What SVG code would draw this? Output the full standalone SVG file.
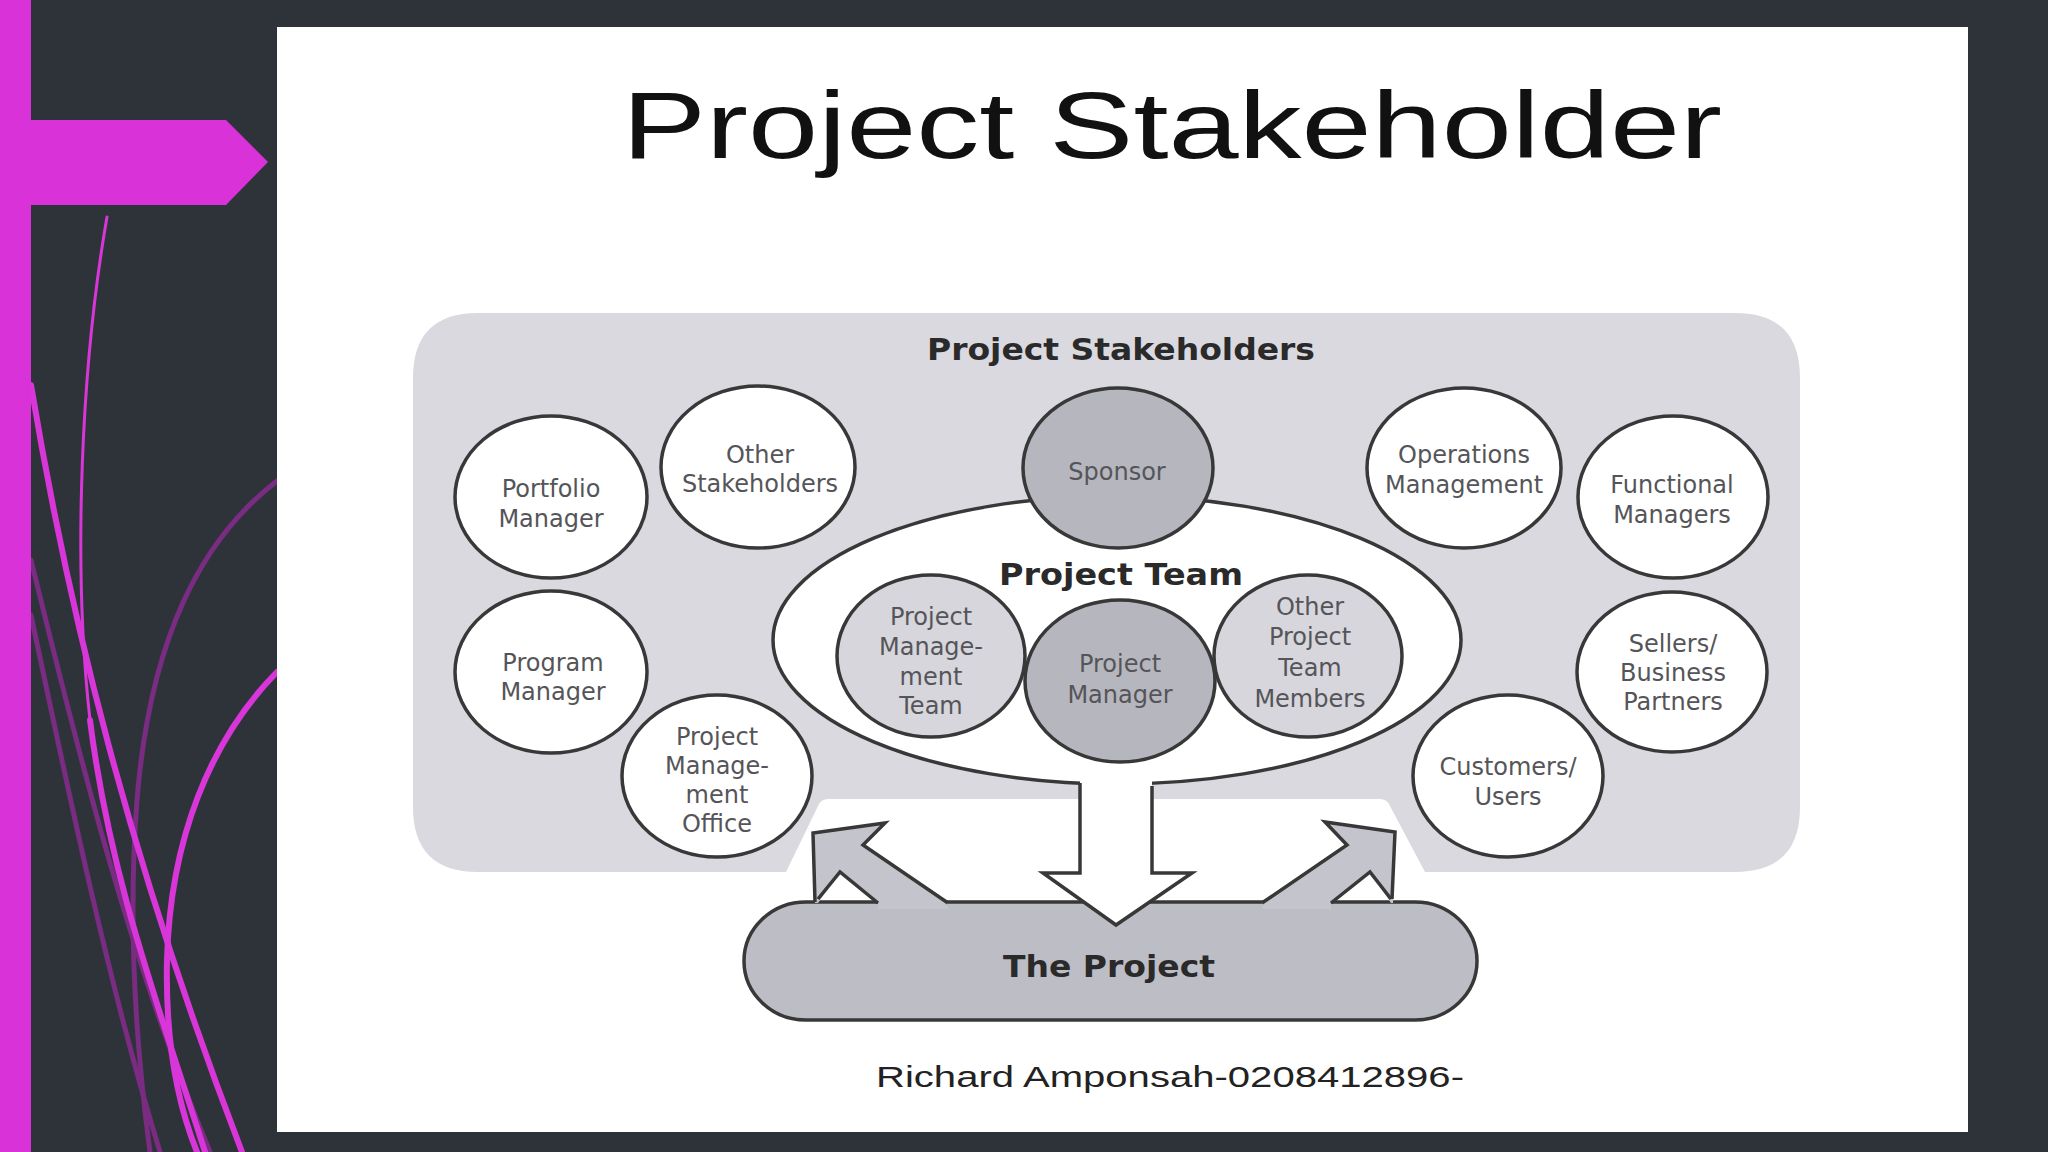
<svg xmlns="http://www.w3.org/2000/svg" width="2048" height="1152" viewBox="0 0 2048 1152">
  <style>
    .node { stroke: #383838; stroke-width: 3.5; }
    .white { fill: #ffffff; }
    .dark { fill: #b6b6be; }
    .light { fill: #d6d6dc; }
    .lbl { font-family: "DejaVu Sans", "Liberation Sans", sans-serif; font-size: 24px; fill: #555559; text-anchor: middle; }
    .head { font-family: "DejaVu Sans", "Liberation Sans", sans-serif; font-weight: bold; font-size: 30px; fill: #2a2a2a; text-anchor: middle; }
    .bright { fill: none; stroke: #d936d9; stroke-linecap: round; }
    .purple { fill: none; stroke: #7a2b82; stroke-linecap: round; }
  </style>

  <!-- slide background -->
  <rect x="0" y="0" width="2048" height="1152" fill="#2e333a"/>

  <!-- decorative curves -->
  <g id="decor">
    <path class="purple" stroke-width="5" d="M31,560 C 80,760 130,960 210,1152"/>
    <path class="purple" stroke-width="5" d="M31,615 C 70,800 110,990 160,1152"/>
    <path class="purple" stroke-width="5" d="M277,481 C 200,540 150,640 137,800 C 128,920 135,1040 150,1152"/>
    <path class="bright" stroke-width="3" d="M107,217 C 82,360 72,560 90,720"/>
    <path class="bright" stroke-width="6" d="M90,720 C 110,880 160,1010 205,1152"/>
    <path class="bright" stroke-width="6" d="M31,385 C 70,620 130,860 242,1152"/>
    <path class="bright" stroke-width="6" d="M277,672 C 210,740 170,840 167,960 C 165,1050 180,1110 197,1152"/>
  </g>

  <!-- magenta bar and arrow -->
  <rect x="0" y="0" width="31" height="1152" fill="#d932d9"/>
  <polygon points="31,120 226,120 268,162 226,205 31,205" fill="#d932d9"/>

  <!-- white slide panel -->
  <rect x="277" y="27" width="1691" height="1105" fill="#ffffff"/>

  <text x="1172" y="158" font-family="Liberation Sans, Arial, sans-serif" font-size="95" fill="#111111" text-anchor="middle" textLength="1100" lengthAdjust="spacingAndGlyphs">Project Stakeholder</text>

  <!-- stakeholders container -->
  <g id="stakeholders">
    <path d="M478,313 H1735 Q1800,313 1800,378 V807 Q1800,872 1735,872 H1425 L1390,806 Q1387,799 1380,799 H828 Q821,799 818,806 L786,872 H478 Q413,872 413,807 V378 Q413,313 478,313 Z" fill="#d9d9df"/>
    <text class="head" x="1121" y="360" textLength="388" lengthAdjust="spacingAndGlyphs">Project Stakeholders</text>
  </g>

  <g id="portfolio-manager">
    <ellipse class="node white" cx="551" cy="497" rx="96" ry="81"/>
    <text class="lbl" x="551" y="497">Portfolio</text>
    <text class="lbl" x="551" y="527">Manager</text>
  </g>
  <g id="other-stakeholders">
    <ellipse class="node white" cx="758" cy="467" rx="97" ry="81"/>
    <text class="lbl" x="760" y="463">Other</text>
    <text class="lbl" x="760" y="492">Stakeholders</text>
  </g>
  <g id="program-manager">
    <ellipse class="node white" cx="551" cy="672" rx="96" ry="81"/>
    <text class="lbl" x="553" y="671">Program</text>
    <text class="lbl" x="553" y="700">Manager</text>
  </g>
  <g id="project-management-office">
    <ellipse class="node white" cx="717" cy="776" rx="95" ry="81"/>
    <text class="lbl" x="717" y="745">Project</text>
    <text class="lbl" x="717" y="774">Manage-</text>
    <text class="lbl" x="717" y="803">ment</text>
    <text class="lbl" x="717" y="832">Office</text>
  </g>
  <g id="operations-management">
    <ellipse class="node white" cx="1464" cy="468" rx="97" ry="80"/>
    <text class="lbl" x="1464" y="463">Operations</text>
    <text class="lbl" x="1464" y="493">Management</text>
  </g>
  <g id="functional-managers">
    <ellipse class="node white" cx="1673" cy="497" rx="95" ry="81"/>
    <text class="lbl" x="1672" y="493">Functional</text>
    <text class="lbl" x="1672" y="523">Managers</text>
  </g>
  <g id="sellers-business-partners">
    <ellipse class="node white" cx="1672" cy="672" rx="95" ry="80"/>
    <text class="lbl" x="1673" y="652">Sellers/</text>
    <text class="lbl" x="1673" y="681">Business</text>
    <text class="lbl" x="1673" y="710">Partners</text>
  </g>
  <g id="customers-users">
    <ellipse class="node white" cx="1508" cy="776" rx="95" ry="81"/>
    <text class="lbl" x="1508" y="775">Customers/</text>
    <text class="lbl" x="1508" y="805">Users</text>
  </g>

  <!-- project team -->
  <g id="project-team">
    <ellipse class="node white" cx="1117" cy="640" rx="344" ry="144"/>
    <text class="head" x="1121" y="585" textLength="244" lengthAdjust="spacingAndGlyphs">Project Team</text>
  </g>
  <g id="sponsor">
    <ellipse class="node dark" cx="1118" cy="468" rx="95" ry="80"/>
    <text class="lbl" x="1117" y="480">Sponsor</text>
  </g>
  <g id="project-management-team">
    <ellipse class="node light" cx="931" cy="656" rx="94" ry="81"/>
    <text class="lbl" x="931" y="625">Project</text>
    <text class="lbl" x="931" y="655">Manage-</text>
    <text class="lbl" x="931" y="685">ment</text>
    <text class="lbl" x="931" y="714">Team</text>
  </g>
  <g id="other-project-team-members">
    <ellipse class="node light" cx="1308" cy="656" rx="94" ry="81"/>
    <text class="lbl" x="1310" y="615">Other</text>
    <text class="lbl" x="1310" y="645">Project</text>
    <text class="lbl" x="1310" y="676">Team</text>
    <text class="lbl" x="1310" y="707">Members</text>
  </g>
  <g id="project-manager">
    <ellipse class="node dark" cx="1120" cy="681" rx="95" ry="81"/>
    <text class="lbl" x="1120" y="672">Project</text>
    <text class="lbl" x="1120" y="703">Manager</text>
  </g>

  <!-- the project -->
  <g id="the-project">
    <rect class="node" x="744" y="902" width="733" height="118" rx="62" ry="59" fill="#bdbdc5"/>
    <text class="head" x="1109" y="977" font-size="32" textLength="212" lengthAdjust="spacingAndGlyphs">The Project</text>
  </g>

  <!-- connectors (block arrows) -->
  <g id="connectors">
    <!-- down arrow: project team to the project -->
    <path d="M1080,770 V873 H1043 L1116,925 L1192,873 H1152 V770 Z" fill="#ffffff"/>
    <path d="M1080,783 V873 H1043 L1116,925 L1192,873 H1152 V786" fill="none" stroke="#383838" stroke-width="3.5" stroke-linejoin="miter"/>
    <!-- left up arrow -->
    <path d="M815,903 L813,833 L885,823 L863,845 L948,903 L948,909 L878,909 L878,903 L840,872 L818,903 Z" fill="#c4c4cc"/>
    <path d="M815,902 L813,833 L885,823 L863,845 L948,903" fill="none" stroke="#383838" stroke-width="3.5" stroke-linejoin="miter"/>
    <path d="M878,903 L840,872 L818,899" fill="none" stroke="#383838" stroke-width="3.5" stroke-linejoin="miter"/>
    <!-- right up arrow -->
    <path d="M1393,903 L1395,832 L1325,822 L1347,845 L1262,903 L1262,909 L1331,909 L1331,903 L1370,872 L1391,903 Z" fill="#c4c4cc"/>
    <path d="M1392,899 L1395,832 L1325,822 L1347,845 L1262,903" fill="none" stroke="#383838" stroke-width="3.5" stroke-linejoin="miter"/>
    <path d="M1331,903 L1370,872 L1391,899" fill="none" stroke="#383838" stroke-width="3.5" stroke-linejoin="miter"/>
  </g>

  <text x="1170" y="1087" font-family="Liberation Sans, Arial, sans-serif" font-size="30" fill="#222222" text-anchor="middle" textLength="588" lengthAdjust="spacingAndGlyphs">Richard Amponsah-0208412896-</text>
</svg>
